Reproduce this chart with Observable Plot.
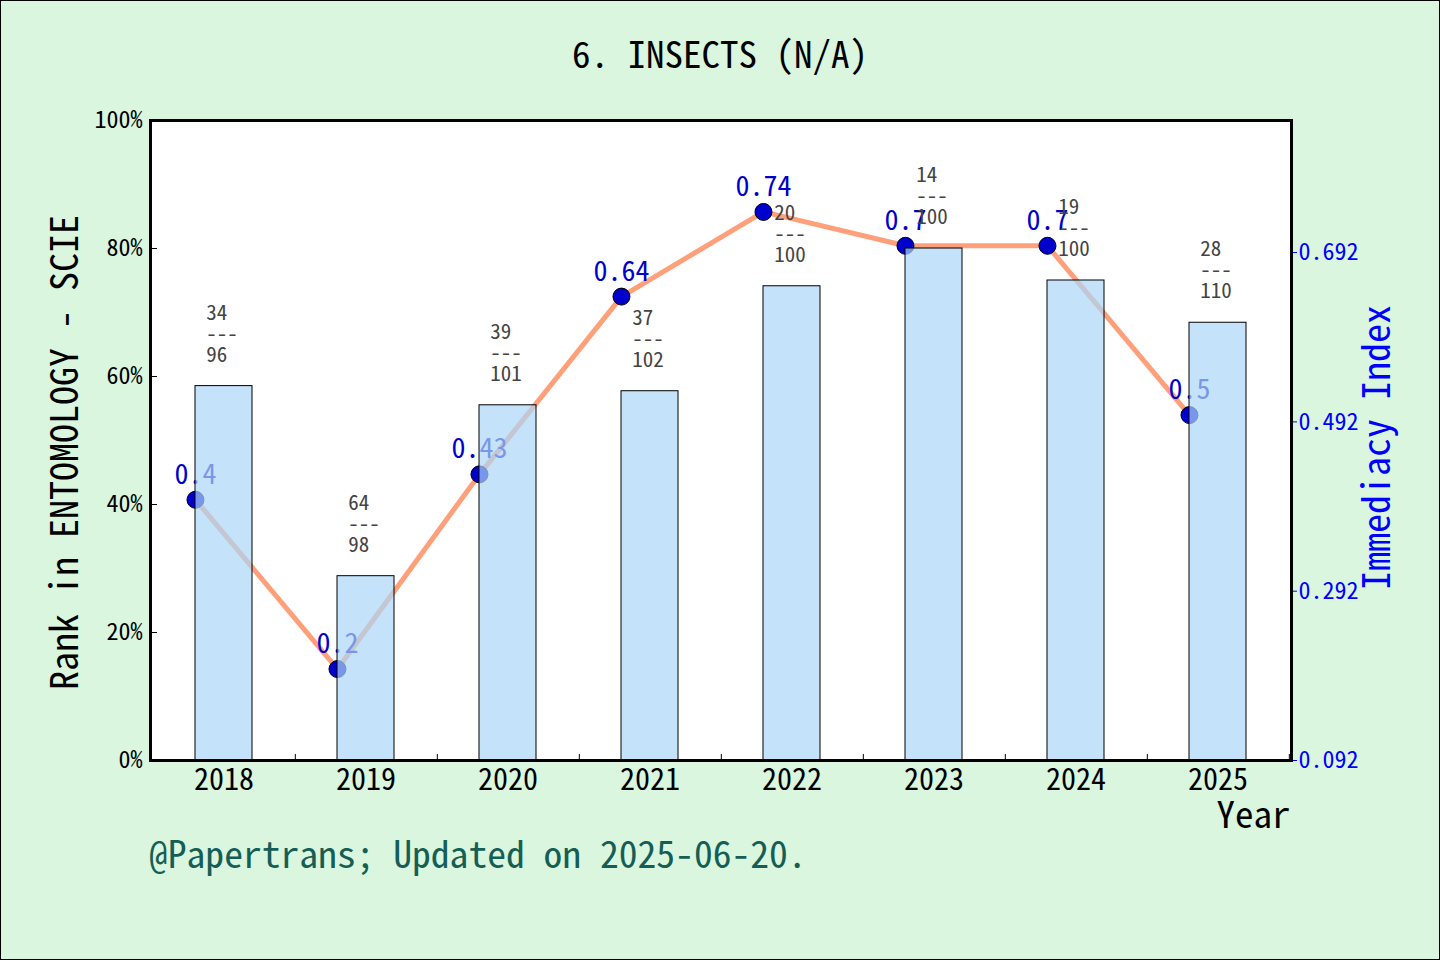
<!DOCTYPE html>
<html>
<head>
<meta charset="utf-8">
<script src="https://cdn.jsdelivr.net/npm/d3@7"></script>
<script src="https://cdn.jsdelivr.net/npm/@observablehq/plot@0.6"></script>
<style>
  html, body { margin: 0; padding: 0; background: #daf6df; }
  #fig {
    position: relative; width: 1440px; height: 960px; overflow: hidden;
    background: #daf6df; box-shadow: inset 0 0 0 1px #000;
    font-family: "Noto Sans CJK SC", sans-serif; font-feature-settings: "hwid" 1;
  }
  #title {
    position: absolute; left: 0; top: 34px; width: 1440px; text-align: center;
    font-size: 37px; line-height: 37px; color: #000; white-space: pre;
  }
  #chart { position: absolute; left: 0; top: 90px; }
  #chart svg text { font-feature-settings: "hwid" 1; }
  #footer {
    position: absolute; left: 149px; top: 833px; font-size: 37.6px; line-height: 38px;
    color: #145e55; white-space: pre;
  }
</style>
</head>
<body>
<div id="fig">
  <div id="title">6. INSECTS (N/A)</div>
  <div id="chart"></div>
  <div id="footer">@Papertrans; Updated on 2025-06-20.</div>
</div>
<script>
// ---- data ----
const years = ["2018", "2019", "2020", "2021", "2022", "2023", "2024", "2025"];
const rankPercent = [58.5, 28.8, 55.5, 57.7, 74.1, 80.0, 75.0, 68.4];
const rankPosition = [34, 64, 39, 37, 20, 14, 19, 28];
const rankTotal = [96, 98, 101, 102, 100, 100, 100, 110];
const immediacy = [0.4, 0.2, 0.43, 0.64, 0.74, 0.7, 0.7, 0.5];
const leftTicks = [0, 20, 40, 60, 80, 100];
const rightTicks = [0.092, 0.292, 0.492, 0.692];
const rightDomain = [0.092, 0.848];

const toPct = v => (v - rightDomain[0]) / (rightDomain[1] - rightDomain[0]) * 100;
const fromPct = p => rightDomain[0] + p / 100 * (rightDomain[1] - rightDomain[0]);

const rows = years.map((y, i) => ({
  year: y,
  pct: rankPercent[i],
  rankText: `${rankPosition[i]}\n---\n${rankTotal[i]}`,
  ii: toPct(immediacy[i]),
  iiText: String(immediacy[i])
}));

const W = 1440, H = 742, ML = 150, MR = 149, MT = 30, MB = 72;
const step = (W - ML - MR) / years.length;
const half = step * 0.4 / 2;
const FONT = "'Noto Sans CJK SC', sans-serif";
const rankFont = 21;

const chart = Plot.plot({
  width: W, height: H,
  marginLeft: ML, marginRight: MR, marginTop: MT, marginBottom: MB,
  style: { background: "transparent", fontFamily: FONT, overflow: "visible" },
  x: { type: "band", domain: years, paddingInner: 0.6, paddingOuter: 0.3, axis: null },
  y: { domain: [0, 100], axis: null },
  marks: [
    Plot.frame({ fill: "white" }),
    Plot.lineY(rows, { x: "year", y: "ii", stroke: "#FFA07A", strokeWidth: 5, dx: -half }),
    Plot.dot(rows, { x: "year", y: "ii", r: 8.5, fill: "#0000CD", stroke: "black", strokeWidth: 1, dx: -half }),
    Plot.text(rows, { x: "year", y: "ii", text: "iiText", dx: -half, dy: -25, fill: "#0000CD", fontSize: 28 }),
    Plot.barY(rows, { x: "year", y: "pct", fill: "#abd6f8", fillOpacity: 0.7, stroke: "black", strokeWidth: 1 }),
    Plot.text(rows, { x: "year", y: "pct", text: "rankText", textAnchor: "start", dx: -rankFont * 0.75 - 2, dy: -52,
      lineAnchor: "middle", lineHeight: 1.0, fontSize: rankFont, fill: "#444444" }),
    // x axis labels
    Plot.axisX({ tickSize: 0, tickPadding: 8, fontSize: 30, fill: "black", label: null }),
    // x boundary ticks (inward)
    Plot.axisX({ tickSize: 6, dy: -6, dx: step / 2, tickFormat: () => "", label: null, stroke: "black" }),
    // left axis labels
    Plot.axisY({ ticks: leftTicks, tickSize: 0, tickPadding: 8, tickFormat: d => d + "%", fontSize: 24, fill: "black", label: null }),
    // left axis inward ticks
    Plot.axisY({ ticks: leftTicks, tickSize: 7, dx: 7, tickFormat: () => "", label: null, stroke: "black" }),
    // right axis (immediacy index)
    Plot.axisY({ anchor: "right", ticks: rightTicks.map(toPct), tickSize: 5, tickPadding: 2,
      tickFormat: d => fromPct(d).toFixed(3), fontSize: 24, color: "blue", label: null }),
    Plot.text(["Rank in ENTOMOLOGY - SCIE"], { text: d => d, frameAnchor: "left", textAnchor: "middle", lineAnchor: "middle",
      rotate: -90, dx: -85, dy: 12, fontSize: 38, fill: "black" }),
    Plot.text(["Immediacy Index"], { text: d => d, frameAnchor: "right", textAnchor: "middle", lineAnchor: "middle",
      rotate: -90, dx: 86, dy: 7, fontSize: 38, fill: "blue" }),
    Plot.text(["Year"], { text: d => d, frameAnchor: "bottom-right", textAnchor: "end", lineAnchor: "middle", dx: -1, dy: 56, fontSize: 37, fill: "black" }),
    Plot.frame({ stroke: "black", strokeWidth: 3 })
  ]
});
document.getElementById("chart").appendChild(chart);
</script>
</body>
</html>
